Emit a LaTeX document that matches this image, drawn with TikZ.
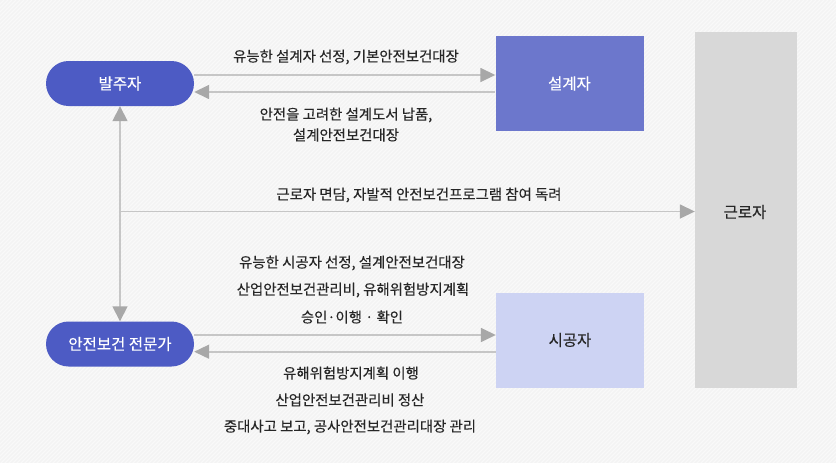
\documentclass[tikz,border=0pt]{standalone}
\usepackage{fontspec}
\setmainfont{Noto Sans CJK KR}[FakeBold=0.25]
\usetikzlibrary{arrows.meta}
\definecolor{bgc}{HTML}{F3F3F3}
\definecolor{stripec}{HTML}{F9F9F9}
\definecolor{pillc}{HTML}{4D5BC4}
\definecolor{desc}{HTML}{6C77CC}
\definecolor{conc}{HTML}{CDD3F3}
\definecolor{workc}{HTML}{D8D8D8}
\definecolor{linec}{HTML}{C6C6C6}
\definecolor{arrc}{HTML}{A8A8A8}
\definecolor{txt}{HTML}{262626}
\tikzset{
  pill/.style={rectangle, rounded corners=22.5pt, fill=pillc, text=white, minimum width=148pt, minimum height=45pt, inner sep=0pt, font=\fontsize{15.5}{18}\selectfont},
  boxn/.style={rectangle, minimum width=148pt, minimum height=95pt, inner sep=0pt, font=\fontsize{15.5}{18}\selectfont},
  lbl/.style={text=txt, inner sep=0pt, font=\fontsize{14.4}{17}\selectfont},
  conn/.style={draw=linec, line width=1.6pt},
}
\begin{document}
\begin{tikzpicture}[x=1pt,y=-1pt]
\useasboundingbox (0,0) rectangle (836,463);
\fill[bgc] (0,0) rectangle (836,463);
\begin{scope}
\clip (0,0) rectangle (836,463);
\foreach \k in {0,4,...,1300} {
  \draw[stripec, line width=1.2pt] (\k,0) -- (\k-470,470);
}
\end{scope}

\node[pill] (ba) at (120,83.5) {발주자};
\node[pill] (jm) at (120,344) {안전보건 전문가};
\node[boxn, fill=desc, text=white] (sg) at (569.5,83.5) {설계자};
\node[boxn, fill=conc, text=txt] (sj) at (570,340) {시공자};
\node[rectangle, fill=workc, minimum width=102pt, minimum height=356pt, inner sep=0pt] (gr) at (746,210) {};
\node[text=txt, inner sep=0pt, font=\fontsize{15.5}{18}\selectfont] (grt) at (745,212) {근로자};

% connectors
\draw[conn, -{Triangle[length=15pt,width=14pt,fill=arrc,color=arrc]}] ([yshift=8.5pt]ba.east) -- ([yshift=8.5pt]sg.west);
\draw[conn, -{Triangle[length=15pt,width=14pt,fill=arrc,color=arrc]}] ([yshift=-8.5pt]sg.west) -- ([yshift=-8.5pt]ba.east);
\draw[conn, {Triangle[length=15pt,width=15pt,fill=arrc,color=arrc]}-{Triangle[length=15pt,width=15pt,fill=arrc,color=arrc]}] (ba.south) -- (jm.north);
\coordinate (j) at (120,211.5);
\draw[conn, -{Triangle[length=15pt,width=14pt,fill=arrc,color=arrc]}] (j) -- (j -| gr.west);
\draw[conn, -{Triangle[length=15pt,width=14pt,fill=arrc,color=arrc]}] ([yshift=9pt]jm.east) -- ([yshift=9pt]jm.east -| sj.west);
\draw[conn, -{Triangle[length=15pt,width=14pt,fill=arrc,color=arrc]}] ([yshift=-7.7pt]jm.east -| sj.west) -- ([yshift=-7.7pt]jm.east);

% labels
\node[lbl] (l1) at (346,57) {유능한 설계자 선정, 기본안전보건대장};
\node[lbl] (l2a) at (346,115) {안전을 고려한 설계도서 납품,};
\node[lbl] (l2b) at (346,135) {설계안전보건대장};
\node[lbl] (l3) at (419,195) {근로자 면담, 자발적 안전보건프로그램 참여 독려};
\node[lbl] (l4a) at (352,263) {유능한 시공자 선정, 설계안전보건대장};
\node[lbl] (l4b) at (353,290) {산업안전보건관리비, 유해위험방지계획};
\node[lbl] (l4c) at (352,317) {승인·이행 · 확인};
\node[lbl] (l5a) at (351,373) {유해위험방지계획 이행};
\node[lbl] (l5b) at (350,400) {산업안전보건관리비 정산};
\node[lbl] (l5c) at (350,427) {중대사고 보고, 공사안전보건관리대장 관리};
\end{tikzpicture}
\end{document}
